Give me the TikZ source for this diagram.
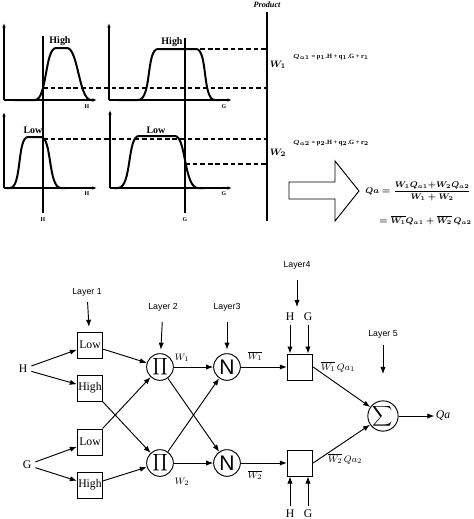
\documentclass[tikz,border=0pt]{standalone}
\usepackage{amsmath}
\usepackage{fontspec}
\setmainfont{Liberation Serif}
\newfontfamily\lyrfont{Liberation Sans}
\usetikzlibrary{arrows.meta}

\begin{document}
\begin{tikzpicture}[x=0.03cm, y=-0.03cm,
        axis/.style={line width=1.1pt, -{Latex[length=4pt,width=3pt]}},
        mf/.style={line width=1.7pt, line join=round},
        cut/.style={line width=0.9pt},
        lvl/.style={line width=0.9pt, dash pattern=on 4pt off 2.5pt},
        axlabel/.style={font=\bfseries\fontsize{5}{6}\selectfont, inner sep=1pt},
        mflabel/.style={font=\bfseries\fontsize{8.5}{10}\selectfont, inner sep=1pt},
        rulelabel/.style={font=\bfseries\boldmath\fontsize{5.5}{6.5}\selectfont, inner sep=1pt},
        wtop/.style={font=\boldmath\fontsize{8}{9}\selectfont, inner sep=1pt},
        qaform/.style={font=\boldmath\fontsize{7.2}{9}\selectfont, inner sep=0pt},
        box/.style={draw, line width=0.8pt, minimum width=0.76cm, minimum height=0.78cm, inner sep=0pt},
        circ/.style={circle, draw, line width=0.8pt, minimum size=0.8cm, inner sep=0pt},
        link/.style={line width=0.8pt, -{Latex[length=6pt,width=4.5pt]}},
        lyr/.style={font=\lyrfont\fontsize{7.5}{9}\selectfont, inner sep=1pt},
        wlab/.style={font=\fontsize{8}{9}\selectfont, inner sep=1pt}]
    \useasboundingbox (0,0) rectangle (474,519);

    % membership functions
    \draw[axis] (4,100) -- (4,23);
    \draw[axis] (4,100) -- (97,100);
    \draw[axis] (109,100) -- (109,23);
    \draw[axis] (109,100) -- (232,100);
    \draw[axis] (4,188) -- (4,112);
    \draw[axis] (4,188) -- (97,188);
    \draw[axis] (110,188) -- (110,110);
    \draw[axis] (110,188) -- (232,188);

    \draw[mf] (14,100) -- (35,100) .. controls (47,100) and (45,48) .. (56,48) -- (67,48)
        .. controls (78,48) and (79,100) .. (91,100) -- (94,100);
    \draw[mf] (118,100) -- (138,100) .. controls (152,100) and (146,49) .. (158,49) -- (196,49)
        .. controls (208,49) and (202,100) .. (215,100) -- (220,100);
    \draw[mf] (6,188) -- (10,188) .. controls (22,188) and (17,137) .. (28,137) -- (41,137)
        .. controls (52,137) and (48,188) .. (61,188) -- (66,188);
    \draw[mf] (114,188) -- (118,188) .. controls (132,188) and (127,136) .. (139,136) -- (175,136)
        .. controls (186,136) and (184,188) .. (198,188) -- (205,188);

    \node[mflabel] (hi1) at (60,41) {High};
    \node[mflabel] (hi2) at (172,42) {High};
    \node[mflabel] (lo1) at (33,130) {Low};
    \node[mflabel] (lo2) at (156,130) {Low};
    \node[axlabel] (ax1) at (87,107) {H};
    \node[axlabel] (ax2) at (224,107) {G};
    \node[axlabel] (ax3) at (87,194) {H};
    \node[axlabel] (ax4) at (224,194) {G};

    \draw[cut] (43,36) -- (43,213);
    \draw[cut] (185,38) -- (185,213);
    \node[axlabel] (hin) at (43,220) {H};
    \node[axlabel] (gin) at (185,220) {G};

    \draw[lvl] (43,88) -- (267,88);
    \draw[lvl] (185,49) -- (267,49);
    \draw[lvl] (43,139) -- (267,139);
    \draw[lvl] (185,164) -- (267,164);

    % product and rules
    \draw[cut] (267,12) -- (267,221);
    \node[font=\bfseries\itshape\fontsize{7}{8}\selectfont, inner sep=1pt] (prod) at (267,5) {Product};
    \node[wtop] (w1top) at (278,65) {$W_1$};
    \node[wtop] (w2top) at (278,153) {$W_2$};
    \node[rulelabel] (rule1) at (331,57) {$Q_{a1}$ = p$_1$.H + q$_1$.G + r$_1$};
    \node[rulelabel] (rule2) at (331,143) {$Q_{a2}$ = p$_2$.H + q$_2$.G + r$_2$};

    \draw[line width=0.8pt] (289,182) -- (335,182) -- (335,161) -- (359,191) -- (335,221)
        -- (335,199) -- (289,199) -- cycle;

    \node[qaform, anchor=east] (qafrac) at (471,191)
        {$Qa = \dfrac{W_1Q_{a1}{+}W_2Q_{a2}}{W_1 + W_2}$};
    \node[qaform, anchor=east] (qasum) at (472,220)
        {$= \overline{W_1}Q_{a1} + \overline{W_2}\,Q_{a2}$};

    % network
    \node (H) at (23,369) {H};
    \node (G) at (27,465) {G};
    \node[box] (low1) at (90,345) {Low};
    \node[box] (high1) at (90,388) {High};
    \node[box] (low2) at (90,442) {Low};
    \node[box] (high2) at (90,485) {High};
    \node[circ] (p1) at (160,367) {$\displaystyle\prod$};
    \node[circ] (p2) at (160,463) {$\displaystyle\prod$};
    \node[circ, font=\lyrfont\fontsize{18}{18}\selectfont] (n1) at (227,367) {N};
    \node[circ, font=\lyrfont\fontsize{18}{18}\selectfont] (n2) at (227,463) {N};
    \node[box] (m1) at (300,367) {};
    \node[box] (m2) at (300,463) {};
    \node[circ, minimum size=0.9cm, font=\fontsize{12}{12}\selectfont] (s) at (383,416) {$\displaystyle\sum$};
    \node[wlab, font=\itshape\fontsize{10}{11}\selectfont] (qa) at (443,416) {Qa};

    \draw[link] (H) -- (low1);
    \draw[link] (H) -- (high1);
    \draw[link] (G) -- (low2);
    \draw[link] (G) -- (high2);
    \draw[link] (low1) -- (p1);
    \draw[link] (high1) -- (p2);
    \draw[link] (low2) -- (p1);
    \draw[link] (high2) -- (p2);
    \draw[link] (p1) -- (n1);
    \draw[link] (p1) -- (n2);
    \draw[link] (p2) -- (n1);
    \draw[link] (p2) -- (n2);
    \draw[link] (n1) -- (m1);
    \draw[link] (n2) -- (m2);
    \draw[link] (m1.east) -- (s);
    \draw[link] (m2.east) -- (s);
    \draw[link] (s) -- (qa);

    \node[wlab] (w1) at (182,358) {$W_1$};
    \node[wlab] (w2) at (182,482) {$W_2$};
    \node[wlab] (w1n) at (255,356) {$\overline{W_1}$};
    \node[wlab] (w2n) at (255,475) {$\overline{W_2}$};
    \node[wlab] (f1) at (338,367) {$\overline{W_1}\,Qa_1$};
    \node[wlab] (f2) at (345,459) {$\overline{W_2}\,Qa_2$};

    % layers
    \node[lyr] (l1) at (87,292) {Layer 1};
    \node[lyr] (l2) at (163,307) {Layer 2};
    \node[lyr] (l3) at (227,307) {Layer3};
    \node[lyr] (l4) at (297,265) {Layer4};
    \node[lyr] (l5) at (383,334) {Layer 5};
    \coordinate (hg1) at (297,307);
    \coordinate (l5tip) at (383,374);
    \draw[link, shorten <=4pt, shorten >=4pt] (l1) -- (low1);
    \draw[link, shorten <=8pt, shorten >=3pt] (l2) -- (p1);
    \draw[link, shorten <=8pt, shorten >=3pt] (l3) -- (n1);
    \draw[link, shorten <=8pt] (l4) -- (hg1);
    \draw[link, shorten <=5pt] (l5) -- (l5tip);

    \node (h1) at (290,317) {H};
    \node (g1) at (308,317) {G};
    \node (h2) at (290,514) {H};
    \node (g2) at (308,514) {G};
    \draw[link] (h1) -- (h1 |- m1.north);
    \draw[link] (g1) -- (g1 |- m1.north);
    \draw[link] (h2) -- (h2 |- m2.south);
    \draw[link] (g2) -- (g2 |- m2.south);
\end{tikzpicture}
\end{document}
